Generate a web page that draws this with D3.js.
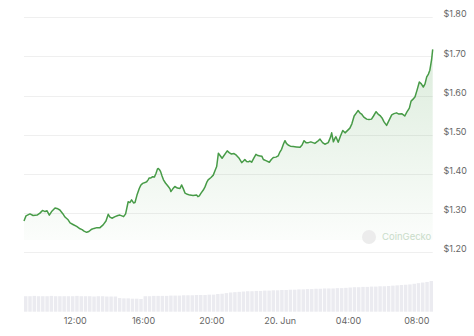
<!DOCTYPE html>
<html>
<head>
<meta charset="utf-8">
<script src="https://cdn.jsdelivr.net/npm/d3@7"></script>
<style>
  html, body { margin: 0; padding: 0; background: #fff; }
  svg { display: block; font-family: Inter, "Liberation Sans", sans-serif; }
</style>
</head>
<body>
<svg id="chart" width="474" height="336"></svg>
<script>
// ---- Data ----
// minutes after 19 Jun 09:00 (UTC-like clock shown on axis)
const priceMinutes = [0,7,21,32,46,56,65,74,81,89,98,109,119,126,137,144,155,162,172,185,197,204,211,220,228,238,246,256,267,278,288,296,302,309,320,330,337,344,350,357,366,372,378,385,390,397,405,411,417,425,431,436,440,446,452,458,464,469,472,476,480,485,490,497,507,513,516,523,530,539,548,554,560,566,574,583,594,607,611,616,622,630,636,643,647,657,665,671,677,683,696,714,722,729,738,746,755,765,771,776,782,788,794,800,808,815,822,829,836,841,850,862,869,876,885,893,899,905,912,917,922,928,936,946,957,970,977,984,991,999,1008,1022,1031,1040,1049,1057,1069,1077,1081,1087,1093,1096,1104,1112,1120,1128,1138,1145,1152,1160,1168,1174,1180,1186,1194,1204,1212,1221,1228,1237,1244,1251,1258,1265,1274,1280,1292,1300,1309,1317,1327,1333,1338,1345,1354,1360,1367,1374,1381,1389,1396,1403,1409,1415,1421,1426,1432,1436];
const prices = [1.280,1.293,1.298,1.294,1.295,1.300,1.307,1.304,1.306,1.295,1.305,1.313,1.311,1.308,1.298,1.290,1.283,1.275,1.271,1.266,1.260,1.258,1.254,1.251,1.253,1.259,1.261,1.263,1.263,1.270,1.280,1.297,1.290,1.287,1.291,1.294,1.295,1.293,1.291,1.298,1.329,1.327,1.334,1.326,1.327,1.346,1.363,1.372,1.376,1.378,1.380,1.385,1.390,1.390,1.393,1.392,1.402,1.413,1.414,1.411,1.406,1.395,1.385,1.377,1.368,1.362,1.355,1.362,1.368,1.364,1.363,1.372,1.362,1.351,1.348,1.346,1.345,1.346,1.342,1.344,1.351,1.359,1.367,1.380,1.385,1.391,1.397,1.408,1.419,1.453,1.440,1.459,1.454,1.451,1.452,1.448,1.441,1.429,1.433,1.437,1.432,1.431,1.433,1.430,1.441,1.450,1.447,1.446,1.445,1.437,1.434,1.430,1.437,1.442,1.443,1.446,1.456,1.463,1.477,1.485,1.478,1.474,1.471,1.470,1.469,1.468,1.474,1.485,1.480,1.480,1.482,1.478,1.483,1.489,1.480,1.476,1.480,1.494,1.505,1.482,1.492,1.495,1.481,1.497,1.511,1.505,1.512,1.517,1.528,1.548,1.556,1.562,1.556,1.553,1.545,1.540,1.539,1.540,1.548,1.559,1.553,1.549,1.543,1.533,1.524,1.533,1.551,1.554,1.556,1.553,1.554,1.551,1.548,1.558,1.568,1.586,1.591,1.597,1.614,1.635,1.630,1.622,1.630,1.648,1.655,1.665,1.691,1.718];

// 15-minute volume bars (relative units), starting 09:00
const volumes = [50,50,51,50,50,50,51,50,50,50,50,50,51,50,50,50,49,50,50,49,49,49,
                 44,43,43,42,42,41,
                 50,50,51,51,51,
                 51,52,52,52,53,53,53,54,54,54,55,55,
                 57,58,60,62,63,64,65,66,66,67,67,68,68,69,69,70,
                 70,71,71,72,72,73,73,74,74,75,75,75,
                 76,76,77,78,79,79,80,80,
                 81,81,82,82,83,84,85,86,
                 87,88,90,92,94,96,99];

const yTicks = [1.20, 1.30, 1.40, 1.50, 1.60, 1.70, 1.80];
const xTickHours = [3, 7, 11, 15, 19, 23]; // hours after 09:00 -> 12:00,16:00,20:00,00:00,04:00,08:00

// ---- Layout ----
const start = new Date(Date.UTC(2024, 5, 19, 9, 0));
const addMin = m => new Date(start.getTime() + m * 60000);
const end = addMin(1436);

const x = d3.scaleTime().domain([start, end]).range([24, 432.7]);
const y = d3.scaleLinear().domain([1.2, 1.8]).range([252.3, 17.3]);
const yv = d3.scaleLinear().domain([0, 100]).range([311.7, 280.7]);

const svg = d3.select("#chart");

// gradient
const defs = svg.append("defs");
const grad = defs.append("linearGradient").attr("id", "fillGrad")
  .attr("gradientUnits", "userSpaceOnUse").attr("x1", 0).attr("x2", 0).attr("y1", 40).attr("y2", 240);
grad.append("stop").attr("offset", 0).attr("stop-color", "#4a9d4a").attr("stop-opacity", 0.2);
grad.append("stop").attr("offset", 1).attr("stop-color", "#4a9d4a").attr("stop-opacity", 0.02);

// gridlines
svg.append("g").selectAll("line").data(yTicks).join("line")
  .attr("x1", 24).attr("x2", 432.7)
  .attr("y1", d => Math.round(y(d)) + 0.5).attr("y2", d => Math.round(y(d)) + 0.5)
  .attr("stroke", "#efefef").attr("stroke-width", 1);

// y labels
svg.append("g").selectAll("text").data(yTicks).join("text")
  .attr("x", 443.5).attr("y", d => y(d) - 3).attr("dy", "0.35em")
  .attr("font-size", 9).attr("fill", "#666")
  .text(d => "$" + d3.format(".2f")(d));

// volume bars
const barW = x(addMin(15)) - x(start);
svg.append("g").selectAll("rect").data(volumes).join("rect")
  .attr("x", (d, i) => x(addMin(i * 15)))
  .attr("width", barW - 0.8)
  .attr("y", d => yv(d))
  .attr("height", d => yv(0) - yv(d))
  .attr("fill", "#ebebf0");

// data
const data = priceMinutes.map((m, i) => ({ t: addMin(m), p: prices[i] }));

// area
const area = d3.area().x(d => x(d.t)).y0(240).y1(d => y(d.p));
svg.append("path").datum(data).attr("d", area).attr("fill", "url(#fillGrad)");

// watermark
const wm = svg.append("g").attr("opacity", 1);
wm.append("circle").attr("cx", 369).attr("cy", 237).attr("r", 7).attr("fill", "#ececec");
wm.append("text").attr("x", 382).attr("y", 237).attr("dy", "0.35em")
  .attr("font-size", 9.5).attr("fill", "#c9dcc9").text("CoinGecko");

// line
const line = d3.line().x(d => x(d.t)).y(d => y(d.p));
svg.append("path").datum(data).attr("d", line)
  .attr("fill", "none").attr("stroke", "#479b47").attr("stroke-width", 1.5)
  .attr("stroke-linejoin", "round");

// x axis labels
const fmt = d => d.getUTCHours() === 0 ? "20. Jun" : d3.utcFormat("%H:%M")(d);
const xTicks = xTickHours.map(h => addMin(h * 60));
svg.append("g").selectAll("text").data(xTicks).join("text")
  .attr("x", d => x(d)).attr("y", 320.7).attr("dy", "0.35em")
  .attr("text-anchor", "middle").attr("font-size", 9).attr("fill", "#666")
  .text(fmt);
</script>
</body>
</html>
